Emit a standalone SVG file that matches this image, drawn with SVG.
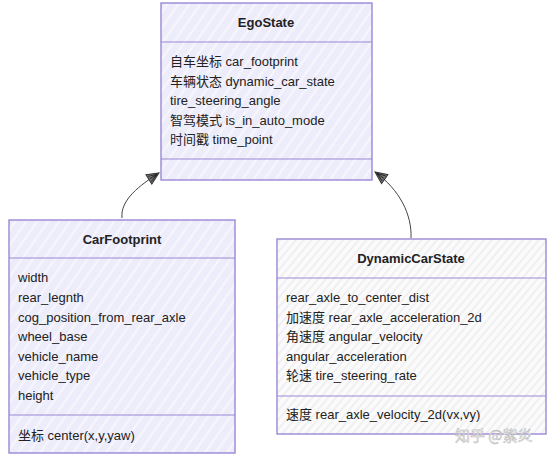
<svg xmlns="http://www.w3.org/2000/svg" width="558" height="458" viewBox="0 0 558 458">
<style>
.box{stroke:#9b87d6;stroke-width:1.4}
.lav{fill:url(#hatchL)}
.gry{fill:url(#hatchG)}
.div{stroke:#9b87d6;stroke-width:1.2;fill:none}
.t{font-family:"Liberation Sans","Noto Sans CJK SC",sans-serif;font-size:13px;fill:#222}
.h{font-family:"Liberation Sans",sans-serif;font-size:13px;font-weight:bold;fill:#222;text-anchor:middle}
.c{fill:none;stroke:#444;stroke-width:1}
.wm{font-family:"Noto Sans CJK SC",sans-serif;font-size:15px;fill:#ffffff;stroke:#bbb;stroke-width:0.6}
</style>
<defs>
<pattern id="hatchL" patternUnits="userSpaceOnUse" width="9" height="9" patternTransform="rotate(-55)">
<rect width="9" height="9" fill="#edecfa"/>
<line x1="0" y1="4.5" x2="9" y2="4.5" stroke="#f8f8fd" stroke-width="1.8"/>
</pattern>
<pattern id="hatchG" patternUnits="userSpaceOnUse" width="6" height="6" patternTransform="rotate(-50)">
<rect width="6" height="6" fill="#fbfbfc"/>
<line x1="0" y1="3" x2="6" y2="3" stroke="#e2e2e6" stroke-width="0.9"/>
</pattern>
<marker id="tri" markerWidth="16" markerHeight="14" refX="13" refY="7" orient="auto" markerUnits="userSpaceOnUse">
<path d="M1,1.5 L13,7 L1,12.5 Z" fill="#777" stroke="#333" stroke-width="1"/>
<path d="M2,4 L11,7 M2,7 L10,7 M2,10 L11,7" stroke="#222" stroke-width="0.9"/>
</marker>
</defs>

<g id="connectors">
<path class="c" d="M122,218 C120,200 140,185 159,173" marker-end="url(#tri)"/>
<path class="c" d="M411,238 C412,215 400,190 375,172" marker-end="url(#tri)"/>
</g>

<g id="EgoState">
<rect class="box lav" x="161" y="3" width="211" height="177"/>
<path class="div" d="M161,42 L372,42 M161,159 L372,159"/>
<text class="h" x="266" y="27">EgoState</text>
<text class="t" x="170" y="66">自车坐标 car_footprint</text>
<text class="t" x="170" y="86">车辆状态 dynamic_car_state</text>
<text class="t" x="170" y="105">tire_steering_angle</text>
<text class="t" x="170" y="125">智驾模式 is_in_auto_mode</text>
<text class="t" x="170" y="144">时间戳 time_point</text>
</g>

<g id="CarFootprint">
<rect class="box lav" x="9" y="220" width="226" height="233"/>
<path class="div" d="M9,258 L235,258 M9,415 L235,415"/>
<text class="h" x="122" y="244">CarFootprint</text>
<text class="t" x="18" y="282">width</text>
<text class="t" x="18" y="302">rear_legnth</text>
<text class="t" x="18" y="322">cog_position_from_rear_axle</text>
<text class="t" x="18" y="341">wheel_base</text>
<text class="t" x="18" y="361">vehicle_name</text>
<text class="t" x="18" y="380">vehicle_type</text>
<text class="t" x="18" y="400">height</text>
<text class="t" x="18" y="440">坐标 center(x,y,yaw)</text>
</g>

<g id="DynamicCarState">
<rect class="box gry" x="277" y="239" width="269" height="195"/>
<path class="div" d="M277,278 L546,278 M277,396 L546,396"/>
<text class="h" x="411" y="263">DynamicCarState</text>
<text class="t" x="286" y="302">rear_axle_to_center_dist</text>
<text class="t" x="286" y="322">加速度 rear_axle_acceleration_2d</text>
<text class="t" x="286" y="341">角速度 angular_velocity</text>
<text class="t" x="286" y="361">angular_acceleration</text>
<text class="t" x="286" y="380">轮速 tire_steering_rate</text>
<text class="t" x="286" y="419">速度 rear_axle_velocity_2d(vx,vy)</text>
</g>

<text class="wm" x="455" y="441">知乎 @紫炎</text>
</svg>
